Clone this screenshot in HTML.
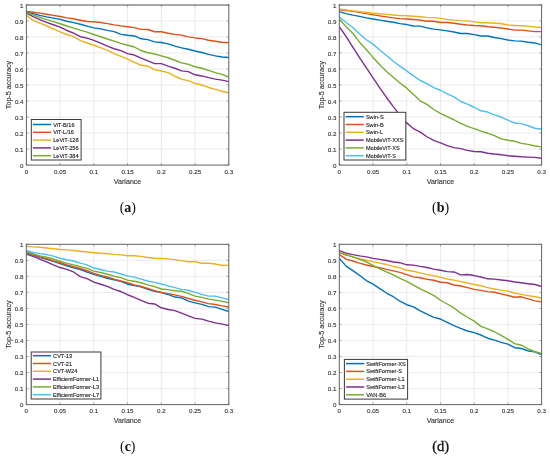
<!DOCTYPE html>
<html><head><meta charset="utf-8"><title>Figure</title>
<style>
html,body{margin:0;padding:0;background:#fff;}
body{width:550px;height:459px;overflow:hidden;position:relative;}
svg{position:absolute;left:0;top:0;display:block;}
.tk{font-family:"Liberation Sans",Arial,sans-serif;font-size:6.2px;fill:#333;stroke:#333;stroke-width:0.12;}
.lb{font-family:"Liberation Sans",Arial,sans-serif;font-size:7.1px;fill:#333;stroke:#333;stroke-width:0.12;}
.lg{font-family:"Liberation Sans",Arial,sans-serif;font-size:5.6px;fill:#1a1a1a;stroke:#1a1a1a;stroke-width:0.12;}
.cap{font-family:"Liberation Serif","DejaVu Serif",serif;font-size:14px;fill:#111;}
.grid line{stroke:#dedede;stroke-width:0.65;}
.grid line.h{stroke:#e7e7e7;stroke-width:0.8;}
.ax{fill:none;stroke:#626262;stroke-width:1.0;}
.tick line{stroke:#6a6a6a;stroke-width:0.6;}
.cv polyline{fill:none;stroke-width:1.4;stroke-linejoin:round;stroke-linecap:butt;}
.lgb{fill:#fff;stroke:#3a3a3a;stroke-width:1.0;}
</style></head><body>
<svg width="550" height="459" viewBox="0 0 550 459">
<rect x="0" y="0" width="550" height="459" fill="#ffffff"/>

<g id="plot-a">
<g class="grid"><line x1="60.13" y1="4.85" x2="60.13" y2="165.1"/><line x1="93.87" y1="4.85" x2="93.87" y2="165.1"/><line x1="127.6" y1="4.85" x2="127.6" y2="165.1"/><line x1="161.33" y1="4.85" x2="161.33" y2="165.1"/><line x1="195.07" y1="4.85" x2="195.07" y2="165.1"/><line class="h" x1="26.4" y1="149.07" x2="228.8" y2="149.07"/><line class="h" x1="26.4" y1="133.05" x2="228.8" y2="133.05"/><line class="h" x1="26.4" y1="117.02" x2="228.8" y2="117.02"/><line class="h" x1="26.4" y1="101" x2="228.8" y2="101"/><line class="h" x1="26.4" y1="84.97" x2="228.8" y2="84.97"/><line class="h" x1="26.4" y1="68.95" x2="228.8" y2="68.95"/><line class="h" x1="26.4" y1="52.92" x2="228.8" y2="52.92"/><line class="h" x1="26.4" y1="36.9" x2="228.8" y2="36.9"/><line class="h" x1="26.4" y1="20.88" x2="228.8" y2="20.88"/></g>
<clipPath id="cp-a"><rect x="26.4" y="4.85" width="202.4" height="160.25"/></clipPath>
<g class="cv" clip-path="url(#cp-a)">
<polyline stroke="#0072BD" points="26.4,11.9 33.15,13.66 39.89,15.43 46.64,16.87 53.39,18.15 60.13,19.43 66.88,21.2 73.63,22.64 80.37,24.24 87.12,26.16 93.87,27.93 100.61,28.89 107.36,30.33 114.11,31.61 120.85,34.34 127.6,35.3 134.35,35.94 141.09,38.82 147.84,39.62 154.59,41.87 161.33,42.51 168.08,43.89 174.83,46.08 181.57,47.83 188.32,49.29 195.07,51.03 201.81,52.49 208.56,54.37 215.31,55.84 222.05,57.01 228.8,57.57"/>
<polyline stroke="#D95319" points="26.4,11.42 33.15,12.22 39.89,13.18 46.64,14.3 53.39,15.43 60.13,16.55 66.88,17.83 73.63,18.79 80.37,20.23 87.12,21.52 93.87,21.68 100.61,22.48 107.36,23.6 114.11,24.88 120.85,25.84 127.6,26.8 134.35,27.61 141.09,29.37 147.84,29.53 154.59,31.77 161.33,31.77 168.08,33.26 174.83,34.42 181.57,35.14 188.32,36.9 195.07,37.93 201.81,38.66 208.56,40.27 215.31,41.27 222.05,42.28 228.8,42.73"/>
<polyline stroke="#EDB120" points="26.4,15.43 33.15,20.39 39.89,23.12 46.64,26 53.39,28.89 60.13,31.77 66.88,34.5 73.63,36.58 80.37,40.59 87.12,42.99 93.87,45.23 100.61,47.64 107.36,50.36 114.11,53.57 120.85,56.45 127.6,59.17 134.35,62.38 141.09,65.26 147.84,66.07 154.59,69.59 161.33,71.03 168.08,72.64 174.83,76.24 181.57,79.21 188.32,80.65 195.07,83.53 201.81,84.97 208.56,87.46 215.31,89.35 222.05,91.22 228.8,92.99"/>
<polyline stroke="#7E2F8E" points="26.4,13.18 33.15,16.55 39.89,19.59 46.64,22.32 53.39,24.72 60.13,27.12 66.88,30.49 73.63,33.21 80.37,36.74 87.12,38.18 93.87,40.43 100.61,43.15 107.36,46.19 114.11,48.76 120.85,50.68 127.6,53.57 134.35,55.01 141.09,58.21 147.84,60.78 154.59,63.66 161.33,63.66 168.08,66.07 174.83,68.23 181.57,70.87 188.32,71.58 195.07,74.78 201.81,75.94 208.56,77.68 215.31,79.14 222.05,80.17 228.8,81.61"/>
<polyline stroke="#77AC30" points="26.4,12.54 33.15,14.95 39.89,17.35 46.64,19.59 53.39,21.68 60.13,23.76 66.88,26 73.63,28.09 80.37,30.17 87.12,32.09 93.87,34.5 100.61,36.74 107.36,38.98 114.11,41.07 120.85,43.31 127.6,45.23 134.35,47 141.09,50.52 147.84,52.76 154.59,54.05 161.33,55.81 168.08,57.73 174.83,60.22 181.57,62.86 188.32,64.3 195.07,66.77 201.81,68.23 208.56,70.39 215.31,72.59 222.05,74.33 228.8,77.28"/>
</g>
<path class="ax" d="M26.4 4.55V165.1H228.8V4.55"/>
<line x1="25.9" y1="5" x2="229.3" y2="5" stroke="#8a8a8a" stroke-width="1.5"/>
<g class="tick"><line x1="26.4" y1="165.1" x2="26.4" y2="163.1"/><line x1="26.4" y1="4.85" x2="26.4" y2="6.85"/><line x1="60.13" y1="165.1" x2="60.13" y2="163.1"/><line x1="60.13" y1="4.85" x2="60.13" y2="6.85"/><line x1="93.87" y1="165.1" x2="93.87" y2="163.1"/><line x1="93.87" y1="4.85" x2="93.87" y2="6.85"/><line x1="127.6" y1="165.1" x2="127.6" y2="163.1"/><line x1="127.6" y1="4.85" x2="127.6" y2="6.85"/><line x1="161.33" y1="165.1" x2="161.33" y2="163.1"/><line x1="161.33" y1="4.85" x2="161.33" y2="6.85"/><line x1="195.07" y1="165.1" x2="195.07" y2="163.1"/><line x1="195.07" y1="4.85" x2="195.07" y2="6.85"/><line x1="228.8" y1="165.1" x2="228.8" y2="163.1"/><line x1="228.8" y1="4.85" x2="228.8" y2="6.85"/><line x1="26.4" y1="165.1" x2="28.4" y2="165.1"/><line x1="228.8" y1="165.1" x2="226.8" y2="165.1"/><line x1="26.4" y1="149.07" x2="28.4" y2="149.07"/><line x1="228.8" y1="149.07" x2="226.8" y2="149.07"/><line x1="26.4" y1="133.05" x2="28.4" y2="133.05"/><line x1="228.8" y1="133.05" x2="226.8" y2="133.05"/><line x1="26.4" y1="117.02" x2="28.4" y2="117.02"/><line x1="228.8" y1="117.02" x2="226.8" y2="117.02"/><line x1="26.4" y1="101" x2="28.4" y2="101"/><line x1="228.8" y1="101" x2="226.8" y2="101"/><line x1="26.4" y1="84.97" x2="28.4" y2="84.97"/><line x1="228.8" y1="84.97" x2="226.8" y2="84.97"/><line x1="26.4" y1="68.95" x2="28.4" y2="68.95"/><line x1="228.8" y1="68.95" x2="226.8" y2="68.95"/><line x1="26.4" y1="52.92" x2="28.4" y2="52.92"/><line x1="228.8" y1="52.92" x2="226.8" y2="52.92"/><line x1="26.4" y1="36.9" x2="28.4" y2="36.9"/><line x1="228.8" y1="36.9" x2="226.8" y2="36.9"/><line x1="26.4" y1="20.88" x2="28.4" y2="20.88"/><line x1="228.8" y1="20.88" x2="226.8" y2="20.88"/><line x1="26.4" y1="4.85" x2="28.4" y2="4.85"/><line x1="228.8" y1="4.85" x2="226.8" y2="4.85"/></g>
<text class="tk" text-anchor="middle" x="26.4" y="173.7">0</text><text class="tk" text-anchor="middle" x="60.13" y="173.7">0.05</text><text class="tk" text-anchor="middle" x="93.87" y="173.7">0.1</text><text class="tk" text-anchor="middle" x="127.6" y="173.7">0.15</text><text class="tk" text-anchor="middle" x="161.33" y="173.7">0.2</text><text class="tk" text-anchor="middle" x="195.07" y="173.7">0.25</text><text class="tk" text-anchor="middle" x="228.8" y="173.7">0.3</text><text class="tk" text-anchor="end" x="23.5" y="167.9">0</text><text class="tk" text-anchor="end" x="23.5" y="151.88">0.1</text><text class="tk" text-anchor="end" x="23.5" y="135.85">0.2</text><text class="tk" text-anchor="end" x="23.5" y="119.82">0.3</text><text class="tk" text-anchor="end" x="23.5" y="103.8">0.4</text><text class="tk" text-anchor="end" x="23.5" y="87.77">0.5</text><text class="tk" text-anchor="end" x="23.5" y="71.75">0.6</text><text class="tk" text-anchor="end" x="23.5" y="55.72">0.7</text><text class="tk" text-anchor="end" x="23.5" y="39.7">0.8</text><text class="tk" text-anchor="end" x="23.5" y="23.68">0.9</text><text class="tk" text-anchor="end" x="23.5" y="7.65">1</text>
<text class="lb" text-anchor="middle" x="127.6" y="183.7">Variance</text>
<text class="lb" text-anchor="middle" transform="translate(11.4 84.97) rotate(-90)">Top-5 accuracy</text>
<rect class="lgb" x="31.3" y="119.5" width="49.8" height="40.5"/>
<line x1="32.9" y1="124.5" x2="51.1" y2="124.5" stroke="#0072BD" stroke-width="1.5"/>
<text class="lg" x="53.2" y="126.5">ViT-B/16</text>
<line x1="32.9" y1="132.3" x2="51.1" y2="132.3" stroke="#D95319" stroke-width="1.5"/>
<text class="lg" x="53.2" y="134.3">ViT-L/16</text>
<line x1="32.9" y1="140.1" x2="51.1" y2="140.1" stroke="#EDB120" stroke-width="1.5"/>
<text class="lg" x="53.2" y="142.1">LeViT-128</text>
<line x1="32.9" y1="147.9" x2="51.1" y2="147.9" stroke="#7E2F8E" stroke-width="1.5"/>
<text class="lg" x="53.2" y="149.9">LeViT-256</text>
<line x1="32.9" y1="155.7" x2="51.1" y2="155.7" stroke="#77AC30" stroke-width="1.5"/>
<text class="lg" x="53.2" y="157.7">LeViT-384</text>
<text class="cap" text-anchor="middle" x="127.8" y="211.7">(<tspan font-weight="bold">a</tspan>)</text>
</g>
<g id="plot-b">
<g class="grid"><line x1="373.02" y1="4.85" x2="373.02" y2="165.1"/><line x1="406.73" y1="4.85" x2="406.73" y2="165.1"/><line x1="440.45" y1="4.85" x2="440.45" y2="165.1"/><line x1="474.17" y1="4.85" x2="474.17" y2="165.1"/><line x1="507.88" y1="4.85" x2="507.88" y2="165.1"/><line class="h" x1="339.3" y1="149.07" x2="541.6" y2="149.07"/><line class="h" x1="339.3" y1="133.05" x2="541.6" y2="133.05"/><line class="h" x1="339.3" y1="117.02" x2="541.6" y2="117.02"/><line class="h" x1="339.3" y1="101" x2="541.6" y2="101"/><line class="h" x1="339.3" y1="84.97" x2="541.6" y2="84.97"/><line class="h" x1="339.3" y1="68.95" x2="541.6" y2="68.95"/><line class="h" x1="339.3" y1="52.92" x2="541.6" y2="52.92"/><line class="h" x1="339.3" y1="36.9" x2="541.6" y2="36.9"/><line class="h" x1="339.3" y1="20.88" x2="541.6" y2="20.88"/></g>
<clipPath id="cp-b"><rect x="339.3" y="4.85" width="202.3" height="160.25"/></clipPath>
<g class="cv" clip-path="url(#cp-b)">
<polyline stroke="#0072BD" points="339.3,11.61 346.04,13.66 352.79,15.14 359.53,16.32 366.27,17.83 373.02,18.95 379.76,20.14 386.5,21.2 393.25,22.21 399.99,23.66 406.73,24.56 413.48,26 420.22,26.16 426.96,27.93 433.71,29.11 440.45,29.85 447.19,30.87 453.94,32.04 460.68,33.53 467.42,33.53 474.17,34.66 480.91,36.02 487.65,36.02 494.4,37.49 501.14,38.66 507.88,39.99 514.63,40.91 521.37,41.16 528.11,42.19 534.86,42.93 541.6,44.83"/>
<polyline stroke="#D95319" points="339.3,9.71 346.04,10.46 352.79,11.32 359.53,12.38 366.27,13.66 373.02,14.85 379.76,15.91 386.5,16.9 393.25,17.83 399.99,18.66 406.73,18.95 413.48,19.43 420.22,20.3 426.96,21.2 433.71,21.2 440.45,22.48 447.19,22.48 453.94,23.23 460.68,24.24 467.42,24.99 474.17,25.52 480.91,25.73 487.65,26.76 494.4,27.19 501.14,27.93 507.88,28.97 514.63,30.17 521.37,30.17 528.11,30.87 534.86,31.61 541.6,31.61"/>
<polyline stroke="#EDB120" points="339.3,8.97 346.04,9.98 352.79,10.88 359.53,11.61 366.27,12.49 373.02,13.23 379.76,13.82 386.5,14.4 393.25,14.99 399.99,15.59 406.73,15.75 413.48,16.23 420.22,16.77 426.96,17.35 433.71,17.67 440.45,18.38 447.19,19.43 453.94,20.14 460.68,20.59 467.42,20.88 474.17,21.9 480.91,22.8 487.65,22.8 494.4,23.23 501.14,23.52 507.88,24.99 514.63,25.43 521.37,25.73 528.11,26.16 534.86,27.04 541.6,27.49"/>
<polyline stroke="#7E2F8E" points="339.3,26.64 346.04,36.42 352.79,47.16 359.53,57.73 366.27,67.67 373.02,77.92 379.76,87.86 386.5,97.47 393.25,106.61 399.99,115.1 406.73,122.86 413.48,128.66 420.22,132.18 426.96,136.74 433.71,140.42 440.45,142.89 447.19,145.55 453.94,147.63 460.68,148.67 467.42,150.36 474.17,151.48 480.91,151.8 487.65,153.24 494.4,154.04 501.14,154.68 507.88,155.74 514.63,156.29 521.37,156.77 528.11,157.09 534.86,157.41 541.6,158.21"/>
<polyline stroke="#77AC30" points="339.3,19.27 346.04,26.64 352.79,33.21 359.53,42.19 366.27,49.56 373.02,57.41 379.76,64.78 386.5,71.51 393.25,77.28 399.99,83.05 406.73,88.18 413.48,94.59 420.22,100.79 426.96,104.37 433.71,109.49 440.45,113.34 447.19,116.7 453.94,119.75 460.68,123.44 467.42,126.32 474.17,128.56 480.91,131.13 487.65,133.21 494.4,135.61 501.14,138.82 507.88,140.26 514.63,141.29 521.37,143.35 528.11,144.43 534.86,146.03 541.6,146.88"/>
<polyline stroke="#4DBEEE" points="339.3,17.11 346.04,22.48 352.79,27.45 359.53,34.02 366.27,39.78 373.02,44.11 379.76,50.04 386.5,55.49 393.25,61.26 399.99,66.07 406.73,70.87 413.48,75.84 420.22,80.49 426.96,83.53 433.71,87.7 440.45,90.26 447.19,93.95 453.94,96.83 460.68,101.48 467.42,104.04 474.17,107.25 480.91,110.78 487.65,112.06 494.4,114.94 501.14,117.03 507.88,120.13 514.63,123.03 521.37,123.66 528.11,125.73 534.86,128.24 541.6,129.25"/>
</g>
<path class="ax" d="M339.3 4.55V165.1H541.6V4.55"/>
<line x1="338.8" y1="5" x2="542.1" y2="5" stroke="#8a8a8a" stroke-width="1.5"/>
<g class="tick"><line x1="339.3" y1="165.1" x2="339.3" y2="163.1"/><line x1="339.3" y1="4.85" x2="339.3" y2="6.85"/><line x1="373.02" y1="165.1" x2="373.02" y2="163.1"/><line x1="373.02" y1="4.85" x2="373.02" y2="6.85"/><line x1="406.73" y1="165.1" x2="406.73" y2="163.1"/><line x1="406.73" y1="4.85" x2="406.73" y2="6.85"/><line x1="440.45" y1="165.1" x2="440.45" y2="163.1"/><line x1="440.45" y1="4.85" x2="440.45" y2="6.85"/><line x1="474.17" y1="165.1" x2="474.17" y2="163.1"/><line x1="474.17" y1="4.85" x2="474.17" y2="6.85"/><line x1="507.88" y1="165.1" x2="507.88" y2="163.1"/><line x1="507.88" y1="4.85" x2="507.88" y2="6.85"/><line x1="541.6" y1="165.1" x2="541.6" y2="163.1"/><line x1="541.6" y1="4.85" x2="541.6" y2="6.85"/><line x1="339.3" y1="165.1" x2="341.3" y2="165.1"/><line x1="541.6" y1="165.1" x2="539.6" y2="165.1"/><line x1="339.3" y1="149.07" x2="341.3" y2="149.07"/><line x1="541.6" y1="149.07" x2="539.6" y2="149.07"/><line x1="339.3" y1="133.05" x2="341.3" y2="133.05"/><line x1="541.6" y1="133.05" x2="539.6" y2="133.05"/><line x1="339.3" y1="117.02" x2="341.3" y2="117.02"/><line x1="541.6" y1="117.02" x2="539.6" y2="117.02"/><line x1="339.3" y1="101" x2="341.3" y2="101"/><line x1="541.6" y1="101" x2="539.6" y2="101"/><line x1="339.3" y1="84.97" x2="341.3" y2="84.97"/><line x1="541.6" y1="84.97" x2="539.6" y2="84.97"/><line x1="339.3" y1="68.95" x2="341.3" y2="68.95"/><line x1="541.6" y1="68.95" x2="539.6" y2="68.95"/><line x1="339.3" y1="52.92" x2="341.3" y2="52.92"/><line x1="541.6" y1="52.92" x2="539.6" y2="52.92"/><line x1="339.3" y1="36.9" x2="341.3" y2="36.9"/><line x1="541.6" y1="36.9" x2="539.6" y2="36.9"/><line x1="339.3" y1="20.88" x2="341.3" y2="20.88"/><line x1="541.6" y1="20.88" x2="539.6" y2="20.88"/><line x1="339.3" y1="4.85" x2="341.3" y2="4.85"/><line x1="541.6" y1="4.85" x2="539.6" y2="4.85"/></g>
<text class="tk" text-anchor="middle" x="339.3" y="173.7">0</text><text class="tk" text-anchor="middle" x="373.02" y="173.7">0.05</text><text class="tk" text-anchor="middle" x="406.73" y="173.7">0.1</text><text class="tk" text-anchor="middle" x="440.45" y="173.7">0.15</text><text class="tk" text-anchor="middle" x="474.17" y="173.7">0.2</text><text class="tk" text-anchor="middle" x="507.88" y="173.7">0.25</text><text class="tk" text-anchor="middle" x="541.6" y="173.7">0.3</text><text class="tk" text-anchor="end" x="336.4" y="167.9">0</text><text class="tk" text-anchor="end" x="336.4" y="151.88">0.1</text><text class="tk" text-anchor="end" x="336.4" y="135.85">0.2</text><text class="tk" text-anchor="end" x="336.4" y="119.82">0.3</text><text class="tk" text-anchor="end" x="336.4" y="103.8">0.4</text><text class="tk" text-anchor="end" x="336.4" y="87.77">0.5</text><text class="tk" text-anchor="end" x="336.4" y="71.75">0.6</text><text class="tk" text-anchor="end" x="336.4" y="55.72">0.7</text><text class="tk" text-anchor="end" x="336.4" y="39.7">0.8</text><text class="tk" text-anchor="end" x="336.4" y="23.68">0.9</text><text class="tk" text-anchor="end" x="336.4" y="7.65">1</text>
<text class="lb" text-anchor="middle" x="440.45" y="183.7">Variance</text>
<text class="lb" text-anchor="middle" transform="translate(324.3 84.97) rotate(-90)">Top-5 accuracy</text>
<rect class="lgb" x="344" y="112.3" width="61.8" height="47.7"/>
<line x1="345.6" y1="116.7" x2="363.8" y2="116.7" stroke="#0072BD" stroke-width="1.5"/>
<text class="lg" x="365.9" y="118.7">Swin-S</text>
<line x1="345.6" y1="124.5" x2="363.8" y2="124.5" stroke="#D95319" stroke-width="1.5"/>
<text class="lg" x="365.9" y="126.5">Swin-B</text>
<line x1="345.6" y1="132.3" x2="363.8" y2="132.3" stroke="#EDB120" stroke-width="1.5"/>
<text class="lg" x="365.9" y="134.3">Swin-L</text>
<line x1="345.6" y1="140.1" x2="363.8" y2="140.1" stroke="#7E2F8E" stroke-width="1.5"/>
<text class="lg" x="365.9" y="142.1">MobileViT-XXS</text>
<line x1="345.6" y1="147.9" x2="363.8" y2="147.9" stroke="#77AC30" stroke-width="1.5"/>
<text class="lg" x="365.9" y="149.9">MobileViT-XS</text>
<line x1="345.6" y1="155.7" x2="363.8" y2="155.7" stroke="#4DBEEE" stroke-width="1.5"/>
<text class="lg" x="365.9" y="157.7">MobileViT-S</text>
<text class="cap" text-anchor="middle" x="440.65" y="211.7">(<tspan font-weight="bold">b</tspan>)</text>
</g>
<g id="plot-c">
<g class="grid"><line x1="60.05" y1="244.3" x2="60.05" y2="404.6"/><line x1="93.8" y1="244.3" x2="93.8" y2="404.6"/><line x1="127.55" y1="244.3" x2="127.55" y2="404.6"/><line x1="161.3" y1="244.3" x2="161.3" y2="404.6"/><line x1="195.05" y1="244.3" x2="195.05" y2="404.6"/><line class="h" x1="26.3" y1="388.57" x2="228.8" y2="388.57"/><line class="h" x1="26.3" y1="372.54" x2="228.8" y2="372.54"/><line class="h" x1="26.3" y1="356.51" x2="228.8" y2="356.51"/><line class="h" x1="26.3" y1="340.48" x2="228.8" y2="340.48"/><line class="h" x1="26.3" y1="324.45" x2="228.8" y2="324.45"/><line class="h" x1="26.3" y1="308.42" x2="228.8" y2="308.42"/><line class="h" x1="26.3" y1="292.39" x2="228.8" y2="292.39"/><line class="h" x1="26.3" y1="276.36" x2="228.8" y2="276.36"/><line class="h" x1="26.3" y1="260.33" x2="228.8" y2="260.33"/></g>
<clipPath id="cp-c"><rect x="26.3" y="244.3" width="202.5" height="160.3"/></clipPath>
<g class="cv" clip-path="url(#cp-c)">
<polyline stroke="#0072BD" points="26.3,252.48 33.05,254.88 39.8,257.44 46.55,259.37 53.3,261.45 60.05,263.7 66.8,265.78 73.55,267.86 80.3,269.63 87.05,272.19 93.8,274.44 100.55,276.36 107.3,278.28 114.05,279.89 120.8,281.33 127.55,284.21 134.3,285.66 141.05,286.78 147.8,289.34 154.55,291.43 161.3,292.55 168.05,294.47 174.8,297.04 181.55,297.84 188.3,301.13 195.05,302.81 201.8,304.41 208.55,306.66 215.3,307.14 222.05,309.38 228.8,311.47"/>
<polyline stroke="#D95319" points="26.3,252.15 33.05,254.56 39.8,256.8 46.55,258.73 53.3,260.81 60.05,262.73 66.8,264.82 73.55,266.74 80.3,268.51 87.05,270.75 93.8,273.31 100.55,275.4 107.3,276.84 114.05,279.09 120.8,280.85 127.55,282.77 134.3,284.86 141.05,286.46 147.8,288.54 154.55,290.63 161.3,292.39 168.05,293.67 174.8,294.87 181.55,296.32 188.3,298.48 195.05,300.24 201.8,301.85 208.55,303.61 215.3,304.49 222.05,305.86 228.8,306.98"/>
<polyline stroke="#EDB120" points="26.3,246.38 33.05,246.86 39.8,247.23 46.55,247.99 53.3,248.71 60.05,249.43 66.8,249.91 73.55,250.55 80.3,251.19 87.05,251.99 93.8,252.7 100.55,253.28 107.3,253.76 114.05,254.4 120.8,254.88 127.55,255.68 134.3,255.68 141.05,256.37 147.8,257.44 154.55,258.25 161.3,258.49 168.05,258.89 174.8,259.61 181.55,260.65 188.3,261.77 195.05,261.77 201.8,263.22 208.55,263.22 215.3,264.02 222.05,265.46 228.8,265.14"/>
<polyline stroke="#7E2F8E" points="26.3,254.16 33.05,256.35 39.8,259.05 46.55,261.93 53.3,264.88 60.05,267.54 66.8,269.31 73.55,271.95 80.3,276.68 87.05,278.6 93.8,282.13 100.55,284.21 107.3,286.39 114.05,289.34 120.8,291.51 127.55,294.73 134.3,297.36 141.05,300.29 147.8,303.23 154.55,303.93 161.3,307.78 168.05,309.54 174.8,310.66 181.55,313.07 188.3,315.95 195.05,318.36 201.8,319.16 208.55,321.16 215.3,322.85 222.05,324.13 228.8,325.57"/>
<polyline stroke="#77AC30" points="26.3,251.35 33.05,253.92 39.8,255.84 46.55,257.28 53.3,259.05 60.05,261.21 66.8,263.42 73.55,264.88 80.3,266.65 87.05,268.35 93.8,271.07 100.55,272.51 107.3,274.28 114.05,276.2 120.8,277.64 127.55,280.09 134.3,281.27 141.05,282.77 147.8,284.92 154.55,286.62 161.3,289.02 168.05,289.66 174.8,290.79 181.55,291.27 188.3,293.42 195.05,296.08 201.8,297.36 208.55,299.12 215.3,300.08 222.05,301.43 228.8,302.81"/>
<polyline stroke="#4DBEEE" points="26.3,250.47 33.05,252.4 39.8,253.6 46.55,254.56 53.3,256.07 60.05,258.25 66.8,259.74 73.55,260.97 80.3,263.12 87.05,264.88 93.8,268.02 100.55,269.55 107.3,271.07 114.05,272.03 120.8,273.96 127.55,275.88 134.3,277.16 141.05,279.09 147.8,281.01 154.55,282.37 161.3,284.05 168.05,285.82 174.8,287.58 181.55,289.34 188.3,290.21 195.05,292.39 201.8,294.31 208.55,296.08 215.3,296.08 222.05,297.92 228.8,299.68"/>
</g>
<rect class="ax" x="26.3" y="244.3" width="202.5" height="160.3"/>
<g class="tick"><line x1="26.3" y1="404.6" x2="26.3" y2="402.6"/><line x1="26.3" y1="244.3" x2="26.3" y2="246.3"/><line x1="60.05" y1="404.6" x2="60.05" y2="402.6"/><line x1="60.05" y1="244.3" x2="60.05" y2="246.3"/><line x1="93.8" y1="404.6" x2="93.8" y2="402.6"/><line x1="93.8" y1="244.3" x2="93.8" y2="246.3"/><line x1="127.55" y1="404.6" x2="127.55" y2="402.6"/><line x1="127.55" y1="244.3" x2="127.55" y2="246.3"/><line x1="161.3" y1="404.6" x2="161.3" y2="402.6"/><line x1="161.3" y1="244.3" x2="161.3" y2="246.3"/><line x1="195.05" y1="404.6" x2="195.05" y2="402.6"/><line x1="195.05" y1="244.3" x2="195.05" y2="246.3"/><line x1="228.8" y1="404.6" x2="228.8" y2="402.6"/><line x1="228.8" y1="244.3" x2="228.8" y2="246.3"/><line x1="26.3" y1="404.6" x2="28.3" y2="404.6"/><line x1="228.8" y1="404.6" x2="226.8" y2="404.6"/><line x1="26.3" y1="388.57" x2="28.3" y2="388.57"/><line x1="228.8" y1="388.57" x2="226.8" y2="388.57"/><line x1="26.3" y1="372.54" x2="28.3" y2="372.54"/><line x1="228.8" y1="372.54" x2="226.8" y2="372.54"/><line x1="26.3" y1="356.51" x2="28.3" y2="356.51"/><line x1="228.8" y1="356.51" x2="226.8" y2="356.51"/><line x1="26.3" y1="340.48" x2="28.3" y2="340.48"/><line x1="228.8" y1="340.48" x2="226.8" y2="340.48"/><line x1="26.3" y1="324.45" x2="28.3" y2="324.45"/><line x1="228.8" y1="324.45" x2="226.8" y2="324.45"/><line x1="26.3" y1="308.42" x2="28.3" y2="308.42"/><line x1="228.8" y1="308.42" x2="226.8" y2="308.42"/><line x1="26.3" y1="292.39" x2="28.3" y2="292.39"/><line x1="228.8" y1="292.39" x2="226.8" y2="292.39"/><line x1="26.3" y1="276.36" x2="28.3" y2="276.36"/><line x1="228.8" y1="276.36" x2="226.8" y2="276.36"/><line x1="26.3" y1="260.33" x2="28.3" y2="260.33"/><line x1="228.8" y1="260.33" x2="226.8" y2="260.33"/><line x1="26.3" y1="244.3" x2="28.3" y2="244.3"/><line x1="228.8" y1="244.3" x2="226.8" y2="244.3"/></g>
<text class="tk" text-anchor="middle" x="26.3" y="413.2">0</text><text class="tk" text-anchor="middle" x="60.05" y="413.2">0.05</text><text class="tk" text-anchor="middle" x="93.8" y="413.2">0.1</text><text class="tk" text-anchor="middle" x="127.55" y="413.2">0.15</text><text class="tk" text-anchor="middle" x="161.3" y="413.2">0.2</text><text class="tk" text-anchor="middle" x="195.05" y="413.2">0.25</text><text class="tk" text-anchor="middle" x="228.8" y="413.2">0.3</text><text class="tk" text-anchor="end" x="23.4" y="407.4">0</text><text class="tk" text-anchor="end" x="23.4" y="391.37">0.1</text><text class="tk" text-anchor="end" x="23.4" y="375.34">0.2</text><text class="tk" text-anchor="end" x="23.4" y="359.31">0.3</text><text class="tk" text-anchor="end" x="23.4" y="343.28">0.4</text><text class="tk" text-anchor="end" x="23.4" y="327.25">0.5</text><text class="tk" text-anchor="end" x="23.4" y="311.22">0.6</text><text class="tk" text-anchor="end" x="23.4" y="295.19">0.7</text><text class="tk" text-anchor="end" x="23.4" y="279.16">0.8</text><text class="tk" text-anchor="end" x="23.4" y="263.13">0.9</text><text class="tk" text-anchor="end" x="23.4" y="247.1">1</text>
<text class="lb" text-anchor="middle" x="127.55" y="423.2">Variance</text>
<text class="lb" text-anchor="middle" transform="translate(11.3 324.45) rotate(-90)">Top-5 accuracy</text>
<rect class="lgb" x="31.2" y="352" width="69.7" height="47"/>
<line x1="32.8" y1="355.7" x2="51" y2="355.7" stroke="#0072BD" stroke-width="1.5"/>
<text class="lg" x="53.1" y="357.7">CVT-13</text>
<line x1="32.8" y1="363.5" x2="51" y2="363.5" stroke="#D95319" stroke-width="1.5"/>
<text class="lg" x="53.1" y="365.5">CVT-21</text>
<line x1="32.8" y1="371.3" x2="51" y2="371.3" stroke="#EDB120" stroke-width="1.5"/>
<text class="lg" x="53.1" y="373.3">CVT-W24</text>
<line x1="32.8" y1="379.1" x2="51" y2="379.1" stroke="#7E2F8E" stroke-width="1.5"/>
<text class="lg" x="53.1" y="381.1">EfficientFormer-L1</text>
<line x1="32.8" y1="386.9" x2="51" y2="386.9" stroke="#77AC30" stroke-width="1.5"/>
<text class="lg" x="53.1" y="388.9">EfficientFormer-L3</text>
<line x1="32.8" y1="394.7" x2="51" y2="394.7" stroke="#4DBEEE" stroke-width="1.5"/>
<text class="lg" x="53.1" y="396.7">EfficientFormer-L7</text>
<text class="cap" text-anchor="middle" x="127.75" y="450.6">(<tspan font-weight="bold">c</tspan>)</text>
</g>
<g id="plot-d">
<g class="grid"><line x1="373.02" y1="244.3" x2="373.02" y2="404.6"/><line x1="406.73" y1="244.3" x2="406.73" y2="404.6"/><line x1="440.45" y1="244.3" x2="440.45" y2="404.6"/><line x1="474.17" y1="244.3" x2="474.17" y2="404.6"/><line x1="507.88" y1="244.3" x2="507.88" y2="404.6"/><line class="h" x1="339.3" y1="388.57" x2="541.6" y2="388.57"/><line class="h" x1="339.3" y1="372.54" x2="541.6" y2="372.54"/><line class="h" x1="339.3" y1="356.51" x2="541.6" y2="356.51"/><line class="h" x1="339.3" y1="340.48" x2="541.6" y2="340.48"/><line class="h" x1="339.3" y1="324.45" x2="541.6" y2="324.45"/><line class="h" x1="339.3" y1="308.42" x2="541.6" y2="308.42"/><line class="h" x1="339.3" y1="292.39" x2="541.6" y2="292.39"/><line class="h" x1="339.3" y1="276.36" x2="541.6" y2="276.36"/><line class="h" x1="339.3" y1="260.33" x2="541.6" y2="260.33"/></g>
<clipPath id="cp-d"><rect x="339.3" y="244.3" width="202.3" height="160.3"/></clipPath>
<g class="cv" clip-path="url(#cp-d)">
<polyline stroke="#0072BD" points="339.3,258.34 346.04,266.16 352.79,270.59 359.53,275.32 366.27,280.53 373.02,284.21 379.76,288.62 386.5,293.03 393.25,296.72 399.99,301.21 406.73,304.73 413.48,306.82 420.22,310.87 426.96,314.19 433.71,317.4 440.45,319.05 447.19,322.37 453.94,325.57 460.68,328.46 467.42,331.02 474.17,332.63 480.91,335.03 487.65,338.24 494.4,340.16 501.14,342.44 507.88,344.07 514.63,347.69 521.37,348.5 528.11,350.95 534.86,351.77 541.6,354.59"/>
<polyline stroke="#D95319" points="339.3,254.64 346.04,259.05 352.79,260.97 359.53,263.06 366.27,264.98 373.02,266.45 379.76,267.64 386.5,269.42 393.25,270.91 399.99,272.35 406.73,274.6 413.48,276.84 420.22,277.8 426.96,279.31 433.71,280.29 440.45,282.29 447.19,282.77 453.94,285.02 460.68,285.98 467.42,287.65 474.17,289.34 480.91,290.39 487.65,291.67 494.4,292.23 501.14,293.83 507.88,295.5 514.63,297.2 521.37,296.81 528.11,298.8 534.86,300.89 541.6,301.85"/>
<polyline stroke="#EDB120" points="339.3,252.43 346.04,254.64 352.79,256.85 359.53,258.63 366.27,260.25 373.02,261.61 379.76,263.06 386.5,264.55 393.25,266.45 399.99,267.94 406.73,270.22 413.48,271.29 420.22,272.93 426.96,274.6 433.71,275.72 440.45,277.32 447.19,278.97 453.94,280.13 460.68,281.57 467.42,283.01 474.17,284.46 480.91,285.74 487.65,287.65 494.4,288.96 501.14,290.15 507.88,291.11 514.63,293.03 521.37,294.35 528.11,295.6 534.86,296.81 541.6,297.95"/>
<polyline stroke="#7E2F8E" points="339.3,250.65 346.04,253.16 352.79,254.64 359.53,255.84 366.27,256.85 373.02,258.34 379.76,259.37 386.5,260.55 393.25,262.03 399.99,262.69 406.73,264.82 413.48,265.14 420.22,266.42 426.96,267.54 433.71,269.15 440.45,270.3 447.19,271.62 453.94,271.95 460.68,274.84 467.42,274.44 474.17,275.56 480.91,277 487.65,278.81 494.4,279.13 501.14,279.95 507.88,280.78 514.63,281.97 521.37,282.77 528.11,283.73 534.86,284.54 541.6,286.51"/>
<polyline stroke="#77AC30" points="339.3,252.88 346.04,255.04 352.79,256.85 359.53,259.37 366.27,261.77 373.02,265.46 379.76,268.83 386.5,271.87 393.25,274.92 399.99,278.28 406.73,281.49 413.48,285.02 420.22,288.8 426.96,292.07 433.71,295.34 440.45,300.24 447.19,304 453.94,307.94 460.68,313.07 467.42,317.24 474.17,321.08 480.91,326.37 487.65,328.87 494.4,331.74 501.14,335.41 507.88,339.36 514.63,343.59 521.37,345.22 528.11,348.98 534.86,351.77 541.6,353.4"/>
</g>
<rect class="ax" x="339.3" y="244.3" width="202.3" height="160.3"/>
<g class="tick"><line x1="339.3" y1="404.6" x2="339.3" y2="402.6"/><line x1="339.3" y1="244.3" x2="339.3" y2="246.3"/><line x1="373.02" y1="404.6" x2="373.02" y2="402.6"/><line x1="373.02" y1="244.3" x2="373.02" y2="246.3"/><line x1="406.73" y1="404.6" x2="406.73" y2="402.6"/><line x1="406.73" y1="244.3" x2="406.73" y2="246.3"/><line x1="440.45" y1="404.6" x2="440.45" y2="402.6"/><line x1="440.45" y1="244.3" x2="440.45" y2="246.3"/><line x1="474.17" y1="404.6" x2="474.17" y2="402.6"/><line x1="474.17" y1="244.3" x2="474.17" y2="246.3"/><line x1="507.88" y1="404.6" x2="507.88" y2="402.6"/><line x1="507.88" y1="244.3" x2="507.88" y2="246.3"/><line x1="541.6" y1="404.6" x2="541.6" y2="402.6"/><line x1="541.6" y1="244.3" x2="541.6" y2="246.3"/><line x1="339.3" y1="404.6" x2="341.3" y2="404.6"/><line x1="541.6" y1="404.6" x2="539.6" y2="404.6"/><line x1="339.3" y1="388.57" x2="341.3" y2="388.57"/><line x1="541.6" y1="388.57" x2="539.6" y2="388.57"/><line x1="339.3" y1="372.54" x2="341.3" y2="372.54"/><line x1="541.6" y1="372.54" x2="539.6" y2="372.54"/><line x1="339.3" y1="356.51" x2="341.3" y2="356.51"/><line x1="541.6" y1="356.51" x2="539.6" y2="356.51"/><line x1="339.3" y1="340.48" x2="341.3" y2="340.48"/><line x1="541.6" y1="340.48" x2="539.6" y2="340.48"/><line x1="339.3" y1="324.45" x2="341.3" y2="324.45"/><line x1="541.6" y1="324.45" x2="539.6" y2="324.45"/><line x1="339.3" y1="308.42" x2="341.3" y2="308.42"/><line x1="541.6" y1="308.42" x2="539.6" y2="308.42"/><line x1="339.3" y1="292.39" x2="341.3" y2="292.39"/><line x1="541.6" y1="292.39" x2="539.6" y2="292.39"/><line x1="339.3" y1="276.36" x2="341.3" y2="276.36"/><line x1="541.6" y1="276.36" x2="539.6" y2="276.36"/><line x1="339.3" y1="260.33" x2="341.3" y2="260.33"/><line x1="541.6" y1="260.33" x2="539.6" y2="260.33"/><line x1="339.3" y1="244.3" x2="341.3" y2="244.3"/><line x1="541.6" y1="244.3" x2="539.6" y2="244.3"/></g>
<text class="tk" text-anchor="middle" x="339.3" y="413.2">0</text><text class="tk" text-anchor="middle" x="373.02" y="413.2">0.05</text><text class="tk" text-anchor="middle" x="406.73" y="413.2">0.1</text><text class="tk" text-anchor="middle" x="440.45" y="413.2">0.15</text><text class="tk" text-anchor="middle" x="474.17" y="413.2">0.2</text><text class="tk" text-anchor="middle" x="507.88" y="413.2">0.25</text><text class="tk" text-anchor="middle" x="541.6" y="413.2">0.3</text><text class="tk" text-anchor="end" x="336.4" y="407.4">0</text><text class="tk" text-anchor="end" x="336.4" y="391.37">0.1</text><text class="tk" text-anchor="end" x="336.4" y="375.34">0.2</text><text class="tk" text-anchor="end" x="336.4" y="359.31">0.3</text><text class="tk" text-anchor="end" x="336.4" y="343.28">0.4</text><text class="tk" text-anchor="end" x="336.4" y="327.25">0.5</text><text class="tk" text-anchor="end" x="336.4" y="311.22">0.6</text><text class="tk" text-anchor="end" x="336.4" y="295.19">0.7</text><text class="tk" text-anchor="end" x="336.4" y="279.16">0.8</text><text class="tk" text-anchor="end" x="336.4" y="263.13">0.9</text><text class="tk" text-anchor="end" x="336.4" y="247.1">1</text>
<text class="lb" text-anchor="middle" x="440.45" y="423.2">Variance</text>
<text class="lb" text-anchor="middle" transform="translate(324.3 324.45) rotate(-90)">Top-5 accuracy</text>
<rect class="lgb" x="344.4" y="359.4" width="63.2" height="39.7"/>
<line x1="346" y1="363.6" x2="364.2" y2="363.6" stroke="#0072BD" stroke-width="1.5"/>
<text class="lg" x="366.3" y="365.6">SwiftFormer-XS</text>
<line x1="346" y1="371.4" x2="364.2" y2="371.4" stroke="#D95319" stroke-width="1.5"/>
<text class="lg" x="366.3" y="373.4">SwiftFormer-S</text>
<line x1="346" y1="379.2" x2="364.2" y2="379.2" stroke="#EDB120" stroke-width="1.5"/>
<text class="lg" x="366.3" y="381.2">SwiftFormer-L1</text>
<line x1="346" y1="387" x2="364.2" y2="387" stroke="#7E2F8E" stroke-width="1.5"/>
<text class="lg" x="366.3" y="389">SwiftFormer-L3</text>
<line x1="346" y1="394.8" x2="364.2" y2="394.8" stroke="#77AC30" stroke-width="1.5"/>
<text class="lg" x="366.3" y="396.8">VAN-B6</text>
<text class="cap" text-anchor="middle" x="440.65" y="450.6" style="font-size:14.6px;stroke:#111;stroke-width:0.3">(<tspan font-weight="normal">d</tspan>)</text>
</g>
</svg>
</body></html>
